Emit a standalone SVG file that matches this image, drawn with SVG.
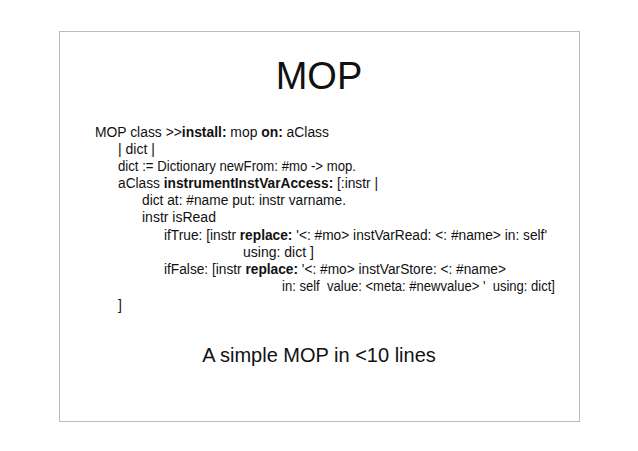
<svg xmlns="http://www.w3.org/2000/svg" width="638" height="451" viewBox="0 0 638 451">
<style>
.c{font-family:"Liberation Sans",Arial,sans-serif;font-size:14px;fill:#111;white-space:pre}
.b{font-weight:bold}
</style>
<rect width="638" height="451" fill="#fff"/>
<rect id="slide" x="59.5" y="31.5" width="520" height="390" fill="#fff" stroke="#bbb" stroke-width="1"/>
<g id="title"><text x="319" y="89" text-anchor="middle" font-family="Liberation Sans,Arial,sans-serif" font-size="38" fill="#111">MOP</text></g>
<g id="code">
<text class="c" x="95" y="137" textLength="234" lengthAdjust="spacingAndGlyphs">MOP class &gt;&gt;<tspan class="b">install:</tspan> mop <tspan class="b">on:</tspan> aClass</text>
<text class="c" x="118" y="154">| dict |</text>
<text class="c" x="118" y="171" textLength="238" lengthAdjust="spacingAndGlyphs">dict := Dictionary newFrom: #mo -&gt; mop.</text>
<text class="c" x="118" y="188" textLength="260" lengthAdjust="spacingAndGlyphs">aClass <tspan class="b">instrumentInstVarAccess:</tspan> [:instr |</text>
<text class="c" x="142" y="205" textLength="204" lengthAdjust="spacingAndGlyphs">dict at: #name put: instr varname.</text>
<text class="c" x="142" y="222">instr isRead</text>
<text class="c" x="164" y="240" textLength="383" lengthAdjust="spacingAndGlyphs">ifTrue: [instr <tspan class="b">replace:</tspan> '&lt;: #mo&gt; instVarRead: &lt;: #name&gt; in: self'</text>
<text class="c" x="243" y="257">using: dict ]</text>
<text class="c" x="164" y="274" textLength="342" lengthAdjust="spacingAndGlyphs">ifFalse: [instr <tspan class="b">replace:</tspan> '&lt;: #mo&gt; instVarStore: &lt;: #name&gt;</text>
<text class="c" x="282" y="291" textLength="273" lengthAdjust="spacingAndGlyphs">in: self  value: &lt;meta: #newvalue&gt; '  using: dict]</text>
<text class="c" x="118" y="310">]</text>
</g>
<g id="subtitle"><text x="319" y="362" text-anchor="middle" font-family="Liberation Sans,Arial,sans-serif" font-size="20" fill="#111">A simple MOP in &lt;10 lines</text></g>
</svg>
